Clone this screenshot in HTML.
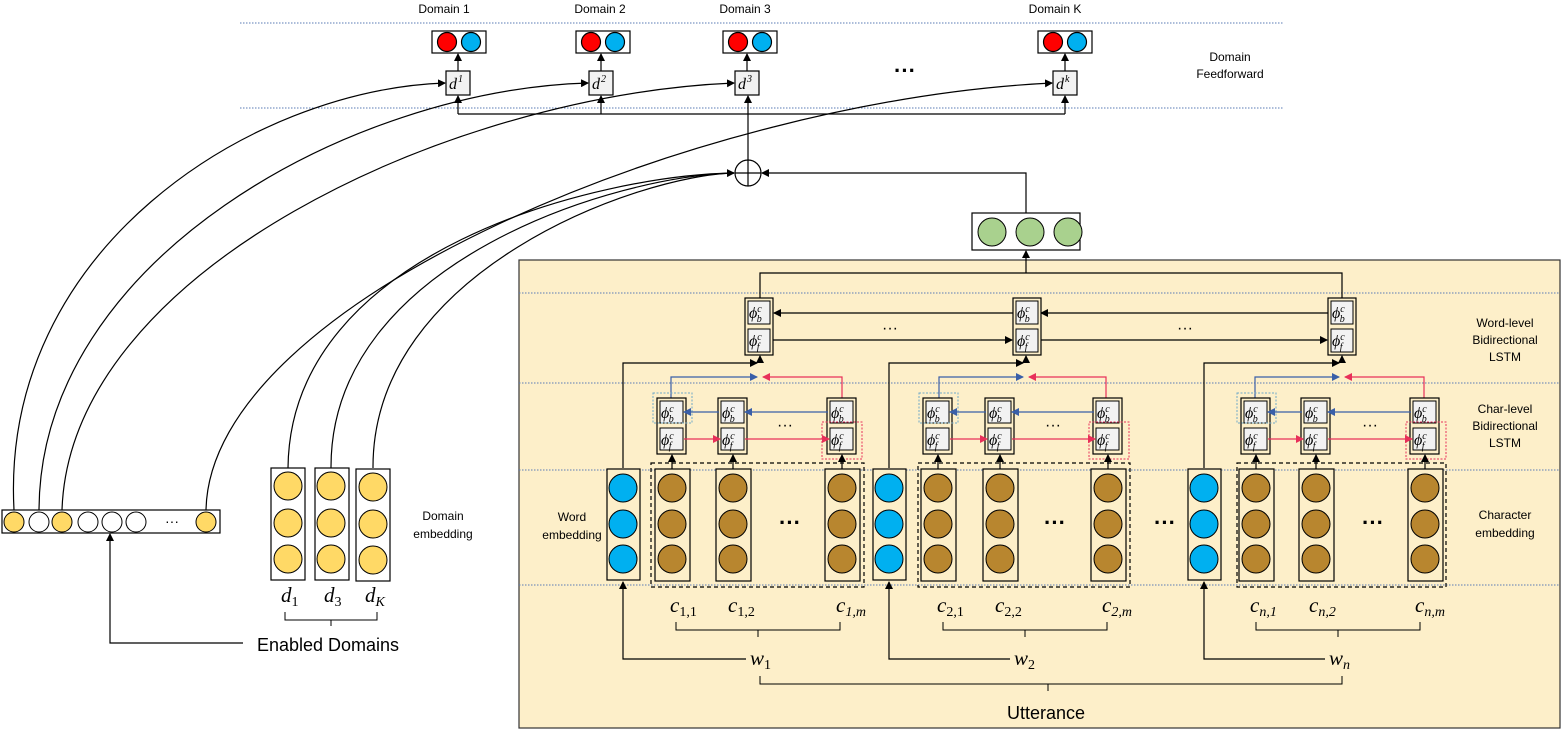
<!DOCTYPE html><html><head><meta charset="utf-8"><style>body{margin:0;background:#fff}svg{display:block}text{font-family:"Liberation Sans",sans-serif}.m,.m text,text.m{font-family:"Liberation Serif",serif;font-style:italic}</style></head><body>
<svg width="1565" height="732" viewBox="0 0 1565 732" xmlns="http://www.w3.org/2000/svg">
<defs><marker id="a" markerWidth="8" markerHeight="8" refX="7" refY="4" orient="auto" markerUnits="userSpaceOnUse"><path d="M0,0L8,4L0,8z" fill="#000"/></marker>
<marker id="ab" markerWidth="8" markerHeight="8" refX="7" refY="4" orient="auto" markerUnits="userSpaceOnUse"><path d="M0,0L8,4L0,8z" fill="#3a5fa8"/></marker>
<marker id="ar" markerWidth="8" markerHeight="8" refX="7" refY="4" orient="auto" markerUnits="userSpaceOnUse"><path d="M0,0L8,4L0,8z" fill="#e8305a"/></marker></defs>
<g stroke="#5a7bb5" stroke-dasharray="1.5,1.5" stroke-width="1"><line x1="240" y1="23" x2="1283" y2="23"/><line x1="240" y1="108" x2="1283" y2="108"/></g>
<g font-size="12" text-anchor="middle"><text x="444" y="13">Domain 1</text><text x="600" y="13">Domain 2</text><text x="745" y="13">Domain 3</text><text x="1055" y="13">Domain K</text>
<text x="1230" y="61">Domain</text><text x="1230" y="78">Feedforward</text></g>
<g stroke="#000" stroke-width="1.2">
<rect x="432" y="31" width="54" height="22" fill="#fff"/><circle cx="447" cy="42" r="9.5" fill="#f00"/><circle cx="471" cy="42" r="9.5" fill="#00b0f0"/>
<rect x="576" y="31" width="54" height="22" fill="#fff"/><circle cx="591" cy="42" r="9.5" fill="#f00"/><circle cx="615" cy="42" r="9.5" fill="#00b0f0"/>
<rect x="723" y="31" width="54" height="22" fill="#fff"/><circle cx="738" cy="42" r="9.5" fill="#f00"/><circle cx="762" cy="42" r="9.5" fill="#00b0f0"/>
<rect x="1038" y="31" width="54" height="22" fill="#fff"/><circle cx="1053" cy="42" r="9.5" fill="#f00"/><circle cx="1077" cy="42" r="9.5" fill="#00b0f0"/>
<rect x="446" y="71" width="24" height="24" fill="#f2f2f2"/><rect x="589" y="71" width="24" height="24" fill="#f2f2f2"/><rect x="735" y="71" width="24" height="24" fill="#f2f2f2"/><rect x="1053" y="71" width="24" height="24" fill="#f2f2f2"/>
</g>
<g class="m" font-size="16"><text x="449" y="89">d</text><text x="458" y="82" font-size="10" font-style="normal">1</text><text x="592" y="89">d</text><text x="601" y="82" font-size="10" font-style="normal">2</text><text x="738" y="89">d</text><text x="747" y="82" font-size="10" font-style="normal">3</text><text x="1056" y="89">d</text><text x="1065" y="82" font-size="10">k</text></g>
<text x="905" y="78" font-size="22" font-weight="bold" text-anchor="middle">···</text>
<g stroke="#000" stroke-width="1.2" fill="none">
<line x1="458" y1="71" x2="458" y2="54" marker-end="url(#a)"/><line x1="601" y1="71" x2="601" y2="54" marker-end="url(#a)"/><line x1="747" y1="71" x2="747" y2="54" marker-end="url(#a)"/><line x1="1065" y1="71" x2="1065" y2="54" marker-end="url(#a)"/>
<polyline points="458,114 1065,114"/><line x1="458" y1="114" x2="458" y2="96" marker-end="url(#a)"/><line x1="601" y1="114" x2="601" y2="96" marker-end="url(#a)"/><line x1="1065" y1="114" x2="1065" y2="96" marker-end="url(#a)"/>
<circle cx="748" cy="173" r="13"/><line x1="735" y1="173" x2="761" y2="173"/><line x1="748" y1="160" x2="748" y2="186"/>
<line x1="748" y1="160" x2="748" y2="96" marker-end="url(#a)"/>
<polyline points="1026,213 1026,173 762,173" marker-end="url(#a)"/>
<path d="M14,510 C0,250 250,90 445,83" marker-end="url(#a)"/>
<path d="M39,510 C40,260 350,90 588,83" marker-end="url(#a)"/>
<path d="M62,510 C70,270 450,95 734,83" marker-end="url(#a)"/>
<path d="M206,510 C210,300 700,100 1052,83" marker-end="url(#a)"/>
<path d="M288,468 C290,250 600,175 734,173" marker-end="url(#a)"/>
<path d="M331,468 C330,260 620,175 734,173"/>
<path d="M373,468 C372,270 640,175 734,173"/>
</g>
<rect x="2" y="510" width="218" height="23" fill="#fff" stroke="#000" stroke-width="1.2"/>
<g stroke="#000" stroke-width="1"><circle cx="14" cy="522" r="10" fill="#ffd966"/><circle cx="39" cy="522" r="10" fill="#fff"/><circle cx="62" cy="522" r="10" fill="#ffd966"/><circle cx="88" cy="522" r="10" fill="#fff"/><circle cx="112" cy="522" r="10" fill="#fff"/><circle cx="136" cy="522" r="10" fill="#fff"/><circle cx="206" cy="522" r="10" fill="#ffd966"/></g>
<text x="172" y="526" font-size="14" text-anchor="middle">···</text>
<polyline points="243,643 110,643 110,534" fill="none" stroke="#000" stroke-width="1.2" marker-end="url(#a)"/>
<text x="328" y="651" font-size="18" text-anchor="middle">Enabled Domains</text>
<g stroke="#000" stroke-width="1.2"><rect x="271" y="468" width="34" height="112" fill="#fff"/><rect x="315" y="468" width="34" height="112" fill="#fff"/><rect x="356" y="469" width="34" height="112" fill="#fff"/>
<g fill="#ffd966" stroke-width="1"><circle cx="288" cy="486" r="14"/><circle cx="288" cy="523" r="14"/><circle cx="288" cy="559" r="14"/><circle cx="331" cy="486" r="14"/><circle cx="331" cy="523" r="14"/><circle cx="331" cy="559" r="14"/><circle cx="373" cy="487" r="14"/><circle cx="373" cy="524" r="14"/><circle cx="373" cy="560" r="14"/></g></g>
<g class="m" font-size="21"><text x="281" y="602">d<tspan font-size="14" dy="4" font-style="normal">1</tspan></text><text x="324" y="602">d<tspan font-size="14" dy="4" font-style="normal">3</tspan></text><text x="365" y="602">d<tspan font-size="14" dy="4">K</tspan></text></g>
<path d="M285,612 v8 h46 v6 v-6 h46 v-8" fill="none" stroke="#000"/>
<g font-size="12" text-anchor="middle"><text x="443" y="520">Domain</text><text x="443" y="538">embedding</text></g>
<rect x="519" y="260" width="1041" height="468" fill="#fdefc9" stroke="#333" stroke-width="1.2"/>
<g stroke="#5a7bb5" stroke-dasharray="1.5,1.5"><line x1="519" y1="293" x2="1560" y2="293"/><line x1="519" y1="383" x2="1560" y2="383"/><line x1="519" y1="470" x2="1560" y2="470"/><line x1="519" y1="585" x2="1560" y2="585"/></g>
<g font-size="12" text-anchor="middle"><text x="1505" y="327">Word-level</text><text x="1505" y="344">Bidirectional</text><text x="1505" y="361">LSTM</text><text x="1505" y="413">Char-level</text><text x="1505" y="430">Bidirectional</text><text x="1505" y="447">LSTM</text><text x="1505" y="519">Character</text><text x="1505" y="537">embedding</text><text x="572" y="521">Word</text><text x="572" y="539">embedding</text></g>
<rect x="972" y="213" width="108" height="37" fill="#fff" stroke="#000" stroke-width="1.2"/>
<g fill="#a9d18e" stroke="#000"><circle cx="992" cy="232" r="14"/><circle cx="1030" cy="232" r="14"/><circle cx="1068" cy="232" r="14"/></g>
<g stroke="#000" stroke-width="1.2" fill="none">
<polyline points="760,298 760,273 1342,273 1342,298"/><line x1="1026" y1="273" x2="1026" y2="251" marker-end="url(#a)"/>
<line x1="1013" y1="313" x2="774" y2="313" marker-end="url(#a)"/><line x1="1328" y1="313" x2="1041" y2="313" marker-end="url(#a)"/>
<line x1="772" y1="340" x2="1012" y2="340" marker-end="url(#a)"/><line x1="1040" y1="340" x2="1327" y2="340" marker-end="url(#a)"/>
</g>
<g font-size="16" text-anchor="middle"><text x="890" y="333">···</text><text x="1185" y="333">···</text><text x="1165" y="530" font-size="22" font-weight="bold">···</text></g>
<g stroke="#000" stroke-width="1.2"><rect x="745" y="298" width="28" height="57" fill="#fdefc9"/><rect x="1013" y="298" width="28" height="57" fill="#fdefc9"/><rect x="1328" y="298" width="28" height="57" fill="#fdefc9"/>
<g fill="#f2f2f2" stroke-width="1"><rect x="748" y="301" width="22" height="23"/><rect x="748" y="329" width="22" height="23"/><rect x="1016" y="301" width="22" height="23"/><rect x="1016" y="329" width="22" height="23"/><rect x="1331" y="301" width="22" height="23"/><rect x="1331" y="329" width="22" height="23"/></g></g>
<g class="m" font-size="16"><text x="749" y="318">ϕ<tspan font-size="10" dy="-6">c</tspan><tspan font-size="10" dx="-5" dy="10">b</tspan></text><text x="749" y="346">ϕ<tspan font-size="10" dy="-6">c</tspan><tspan font-size="10" dx="-5" dy="10">f</tspan></text>
<text x="1017" y="318">ϕ<tspan font-size="10" dy="-6">c</tspan><tspan font-size="10" dx="-5" dy="10">b</tspan></text><text x="1017" y="346">ϕ<tspan font-size="10" dy="-6">c</tspan><tspan font-size="10" dx="-5" dy="10">f</tspan></text>
<text x="1332" y="318">ϕ<tspan font-size="10" dy="-6">c</tspan><tspan font-size="10" dx="-5" dy="10">b</tspan></text><text x="1332" y="346">ϕ<tspan font-size="10" dy="-6">c</tspan><tspan font-size="10" dx="-5" dy="10">f</tspan></text></g>
<g stroke-width="1.2" fill="none">
<rect x="651" y="463" width="213" height="124" stroke="#000" stroke-dasharray="4,3"/>
<polyline points="623,468 623,363 757,363" stroke="#000" marker-end="url(#a)"/><line x1="760" y1="363" x2="760" y2="356" stroke="#000" marker-end="url(#a)"/>
<polyline points="671,398 671,377 757,377" stroke="#3a5fa8" marker-end="url(#ab)"/><polyline points="842,398 842,377 763,377" stroke="#e8305a" marker-end="url(#ar)"/>
<rect x="918" y="463" width="212" height="124" stroke="#000" stroke-dasharray="4,3"/>
<polyline points="889,468 889,363 1023,363" stroke="#000" marker-end="url(#a)"/><line x1="1026" y1="363" x2="1026" y2="356" stroke="#000" marker-end="url(#a)"/>
<polyline points="939,398 939,377 1023,377" stroke="#3a5fa8" marker-end="url(#ab)"/><polyline points="1106,398 1106,377 1029,377" stroke="#e8305a" marker-end="url(#ar)"/>
<rect x="1237" y="463" width="209" height="124" stroke="#000" stroke-dasharray="4,3"/>
<polyline points="1204,468 1204,363 1339,363" stroke="#000" marker-end="url(#a)"/><line x1="1342" y1="363" x2="1342" y2="356" stroke="#000" marker-end="url(#a)"/>
<polyline points="1255,398 1255,377 1339,377" stroke="#3a5fa8" marker-end="url(#ab)"/><polyline points="1424,398 1424,377 1345,377" stroke="#e8305a" marker-end="url(#ar)"/>
</g>
<g stroke="#000" stroke-width="1.2">
<rect x="607" y="469" width="33" height="111" fill="#fdefc9"/><rect x="873" y="469" width="33" height="111" fill="#fdefc9"/><rect x="1188" y="469" width="33" height="111" fill="#fdefc9"/>
<g fill="#00b0f0" stroke-width="1"><circle cx="623" cy="488" r="14"/><circle cx="623" cy="524" r="14"/><circle cx="623" cy="559" r="14"/><circle cx="889" cy="488" r="14"/><circle cx="889" cy="524" r="14"/><circle cx="889" cy="559" r="14"/><circle cx="1204" cy="488" r="14"/><circle cx="1204" cy="524" r="14"/><circle cx="1204" cy="559" r="14"/></g>
<g fill="#fdefc9"><rect x="655" y="469" width="35" height="112"/><rect x="716" y="469" width="35" height="112"/><rect x="825" y="469" width="35" height="112"/><rect x="921" y="469" width="35" height="112"/><rect x="983" y="469" width="35" height="112"/><rect x="1091" y="469" width="35" height="112"/><rect x="1239" y="469" width="35" height="112"/><rect x="1299" y="469" width="35" height="112"/><rect x="1408" y="469" width="35" height="112"/></g>
<g fill="#b8862f" stroke-width="1">
<circle cx="672" cy="488" r="14"/><circle cx="672" cy="524" r="14"/><circle cx="672" cy="559" r="14"/>
<circle cx="733" cy="488" r="14"/><circle cx="733" cy="524" r="14"/><circle cx="733" cy="559" r="14"/>
<circle cx="842" cy="488" r="14"/><circle cx="842" cy="524" r="14"/><circle cx="842" cy="559" r="14"/>
<circle cx="938" cy="488" r="14"/><circle cx="938" cy="524" r="14"/><circle cx="938" cy="559" r="14"/>
<circle cx="1000" cy="488" r="14"/><circle cx="1000" cy="524" r="14"/><circle cx="1000" cy="559" r="14"/>
<circle cx="1108" cy="488" r="14"/><circle cx="1108" cy="524" r="14"/><circle cx="1108" cy="559" r="14"/>
<circle cx="1256" cy="488" r="14"/><circle cx="1256" cy="524" r="14"/><circle cx="1256" cy="559" r="14"/>
<circle cx="1316" cy="488" r="14"/><circle cx="1316" cy="524" r="14"/><circle cx="1316" cy="559" r="14"/>
<circle cx="1425" cy="488" r="14"/><circle cx="1425" cy="524" r="14"/><circle cx="1425" cy="559" r="14"/></g>
<g fill="#fdefc9"><rect x="657" y="398" width="29" height="56"/><rect x="718" y="398" width="29" height="56"/><rect x="827" y="398" width="29" height="56"/><rect x="923" y="398" width="29" height="56"/><rect x="985" y="398" width="29" height="56"/><rect x="1093" y="398" width="29" height="56"/><rect x="1241" y="398" width="29" height="56"/><rect x="1301" y="398" width="29" height="56"/><rect x="1410" y="398" width="29" height="56"/></g>
<g fill="#f2f2f2" stroke-width="1"><rect x="660" y="401" width="23" height="22"/><rect x="660" y="428" width="23" height="22"/><rect x="721" y="401" width="23" height="22"/><rect x="721" y="428" width="23" height="22"/><rect x="830" y="401" width="23" height="22"/><rect x="830" y="428" width="23" height="22"/>
<rect x="926" y="401" width="23" height="22"/><rect x="926" y="428" width="23" height="22"/><rect x="988" y="401" width="23" height="22"/><rect x="988" y="428" width="23" height="22"/><rect x="1096" y="401" width="23" height="22"/><rect x="1096" y="428" width="23" height="22"/>
<rect x="1244" y="401" width="23" height="22"/><rect x="1244" y="428" width="23" height="22"/><rect x="1304" y="401" width="23" height="22"/><rect x="1304" y="428" width="23" height="22"/><rect x="1413" y="401" width="23" height="22"/><rect x="1413" y="428" width="23" height="22"/></g>
</g>
<g fill="none" stroke-width="1" stroke-dasharray="2,1.5"><rect x="653" y="393" width="39" height="30" stroke="#6fa8c8"/><rect x="822" y="422" width="40" height="37" stroke="#e8305a"/><rect x="919" y="393" width="39" height="30" stroke="#6fa8c8"/><rect x="1089" y="422" width="40" height="37" stroke="#e8305a"/><rect x="1237" y="393" width="39" height="30" stroke="#6fa8c8"/><rect x="1406" y="422" width="40" height="37" stroke="#e8305a"/></g>
<g stroke-width="1.2" fill="none">
<line x1="719" y1="412" x2="684" y2="412" stroke="#3a5fa8" marker-end="url(#ab)"/><line x1="828" y1="412" x2="745" y2="412" stroke="#3a5fa8" marker-end="url(#ab)"/><line x1="684" y1="439" x2="720" y2="439" stroke="#e8305a" marker-end="url(#ar)"/><line x1="745" y1="439" x2="829" y2="439" stroke="#e8305a" marker-end="url(#ar)"/>
<line x1="986" y1="412" x2="950" y2="412" stroke="#3a5fa8" marker-end="url(#ab)"/><line x1="1094" y1="412" x2="1012" y2="412" stroke="#3a5fa8" marker-end="url(#ab)"/><line x1="950" y1="439" x2="987" y2="439" stroke="#e8305a" marker-end="url(#ar)"/><line x1="1012" y1="439" x2="1095" y2="439" stroke="#e8305a" marker-end="url(#ar)"/>
<line x1="1302" y1="412" x2="1268" y2="412" stroke="#3a5fa8" marker-end="url(#ab)"/><line x1="1411" y1="412" x2="1328" y2="412" stroke="#3a5fa8" marker-end="url(#ab)"/><line x1="1268" y1="439" x2="1303" y2="439" stroke="#e8305a" marker-end="url(#ar)"/><line x1="1328" y1="439" x2="1412" y2="439" stroke="#e8305a" marker-end="url(#ar)"/>
<g stroke="#000"><line x1="672" y1="469" x2="672" y2="455" marker-end="url(#a)"/><line x1="733" y1="469" x2="733" y2="455" marker-end="url(#a)"/><line x1="842" y1="469" x2="842" y2="455" marker-end="url(#a)"/><line x1="938" y1="469" x2="938" y2="455" marker-end="url(#a)"/><line x1="1000" y1="469" x2="1000" y2="455" marker-end="url(#a)"/><line x1="1108" y1="469" x2="1108" y2="455" marker-end="url(#a)"/><line x1="1256" y1="469" x2="1256" y2="455" marker-end="url(#a)"/><line x1="1316" y1="469" x2="1316" y2="455" marker-end="url(#a)"/><line x1="1425" y1="469" x2="1425" y2="455" marker-end="url(#a)"/></g>
</g>
<g class="m" font-size="16">
<text x="661" y="418">ϕ<tspan font-size="10" dy="-6">c</tspan><tspan font-size="10" dx="-5" dy="10">b</tspan></text><text x="661" y="445">ϕ<tspan font-size="10" dy="-6">c</tspan><tspan font-size="10" dx="-5" dy="10">f</tspan></text>
<text x="722" y="418">ϕ<tspan font-size="10" dy="-6">c</tspan><tspan font-size="10" dx="-5" dy="10">b</tspan></text><text x="722" y="445">ϕ<tspan font-size="10" dy="-6">c</tspan><tspan font-size="10" dx="-5" dy="10">f</tspan></text>
<text x="831" y="418">ϕ<tspan font-size="10" dy="-6">c</tspan><tspan font-size="10" dx="-5" dy="10">b</tspan></text><text x="831" y="445">ϕ<tspan font-size="10" dy="-6">c</tspan><tspan font-size="10" dx="-5" dy="10">f</tspan></text>
<text x="927" y="418">ϕ<tspan font-size="10" dy="-6">c</tspan><tspan font-size="10" dx="-5" dy="10">b</tspan></text><text x="927" y="445">ϕ<tspan font-size="10" dy="-6">c</tspan><tspan font-size="10" dx="-5" dy="10">f</tspan></text>
<text x="989" y="418">ϕ<tspan font-size="10" dy="-6">c</tspan><tspan font-size="10" dx="-5" dy="10">b</tspan></text><text x="989" y="445">ϕ<tspan font-size="10" dy="-6">c</tspan><tspan font-size="10" dx="-5" dy="10">f</tspan></text>
<text x="1097" y="418">ϕ<tspan font-size="10" dy="-6">c</tspan><tspan font-size="10" dx="-5" dy="10">b</tspan></text><text x="1097" y="445">ϕ<tspan font-size="10" dy="-6">c</tspan><tspan font-size="10" dx="-5" dy="10">f</tspan></text>
<text x="1245" y="418">ϕ<tspan font-size="10" dy="-6">c</tspan><tspan font-size="10" dx="-5" dy="10">b</tspan></text><text x="1245" y="445">ϕ<tspan font-size="10" dy="-6">c</tspan><tspan font-size="10" dx="-5" dy="10">f</tspan></text>
<text x="1305" y="418">ϕ<tspan font-size="10" dy="-6">c</tspan><tspan font-size="10" dx="-5" dy="10">b</tspan></text><text x="1305" y="445">ϕ<tspan font-size="10" dy="-6">c</tspan><tspan font-size="10" dx="-5" dy="10">f</tspan></text>
<text x="1414" y="418">ϕ<tspan font-size="10" dy="-6">c</tspan><tspan font-size="10" dx="-5" dy="10">b</tspan></text><text x="1414" y="445">ϕ<tspan font-size="10" dy="-6">c</tspan><tspan font-size="10" dx="-5" dy="10">f</tspan></text>
</g>
<g font-size="16" text-anchor="middle"><text x="785" y="430">···</text><text x="1053" y="430">···</text><text x="1370" y="430">···</text></g>
<g font-size="22" font-weight="bold" text-anchor="middle"><text x="790" y="530">···</text><text x="1055" y="530">···</text><text x="1373" y="530">···</text></g>
<g class="m" font-size="21">
<text x="670" y="612">c<tspan font-size="14" dy="4" font-style="normal">1,1</tspan></text><text x="728" y="612">c<tspan font-size="14" dy="4" font-style="normal">1,2</tspan></text><text x="836" y="612">c<tspan font-size="14" dy="4">1,m</tspan></text>
<text x="937" y="612">c<tspan font-size="14" dy="4" font-style="normal">2,1</tspan></text><text x="995" y="612">c<tspan font-size="14" dy="4" font-style="normal">2,2</tspan></text><text x="1102" y="612">c<tspan font-size="14" dy="4">2,m</tspan></text>
<text x="1250" y="612">c<tspan font-size="14" dy="4">n,1</tspan></text><text x="1309" y="612">c<tspan font-size="14" dy="4">n,2</tspan></text><text x="1415" y="612">c<tspan font-size="14" dy="4">n,m</tspan></text>
<text x="750" y="665">w<tspan font-size="14" dy="4" font-style="normal">1</tspan></text><text x="1014" y="665">w<tspan font-size="14" dy="4" font-style="normal">2</tspan></text><text x="1329" y="665">w<tspan font-size="14" dy="4">n</tspan></text>
</g>
<g fill="none" stroke="#000" stroke-width="1">
<path d="M676,622 v8 h82 v7 v-7 h82 v-8"/><path d="M943,622 v8 h82 v7 v-7 h82 v-8"/><path d="M1256,622 v8 h82 v7 v-7 h82 v-8"/>
<path d="M760,676 v8 h288 v7 v-7 h294 v-8"/>
<g stroke-width="1.2"><polyline points="746,659 623,659 623,582" marker-end="url(#a)"/><polyline points="1010,659 889,659 889,582" marker-end="url(#a)"/><polyline points="1325,659 1204,659 1204,582" marker-end="url(#a)"/></g>
</g>
<text x="1046" y="719" font-size="18" text-anchor="middle">Utterance</text>
</svg>
</body></html>
